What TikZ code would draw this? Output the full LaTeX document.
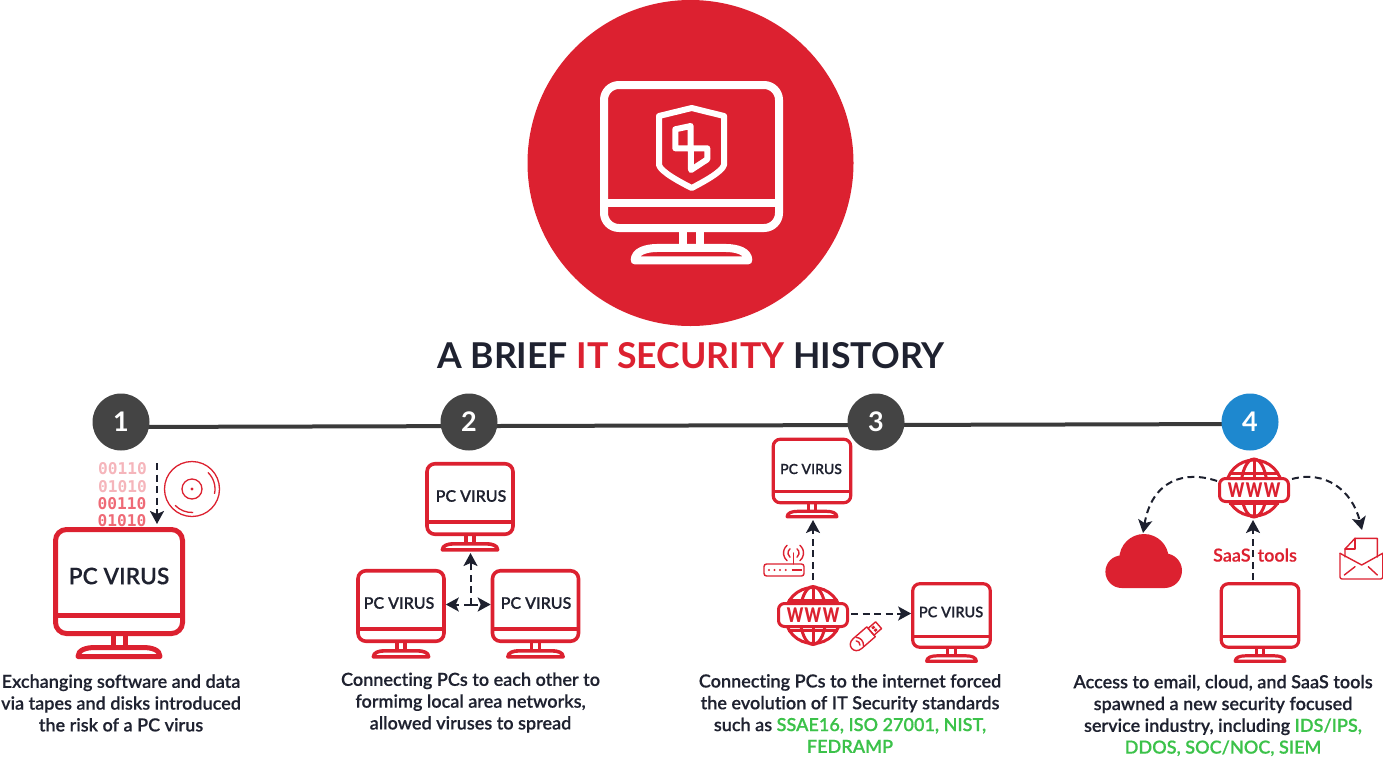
\documentclass[tikz,border=0pt]{standalone}
\usepackage{fontspec}
\usepackage{xcolor}
\usetikzlibrary{arrows.meta,backgrounds}
\setmainfont{Lato}
\newfontfamily\latomed{Lato Semibold}[Ligatures=NoCommon,FakeBold=0.35]
\newfontfamily\latoblack{Lato Black}
\newfontfamily\binfont{DejaVu Sans Mono}[BoldFont={DejaVu Sans Mono Bold}]
\definecolor{virusred}{HTML}{DC2130}
\definecolor{inkdark}{HTML}{1F2230}
\definecolor{stepgrey}{HTML}{444444}
\definecolor{stepblue}{HTML}{1E88CF}
\definecolor{stdgreen}{HTML}{3CC24A}
\definecolor{binlight}{HTML}{F5B5BB}
\definecolor{bindark}{HTML}{EE6A76}
\tikzset{
	pics/monitorbase/.style={code={
		\draw [line join=round] (-64,21) -- (64,21);
		\draw (-6,0) -- (-6,-10) (6,0) -- (6,-10);
		\draw [line join=round] (-41,-20.5) .. controls (-41,-14) and (-33,-11.5) .. (-24,-11.5) -- (24,-11.5) .. controls (33,-11.5) and (41,-14) .. (41,-20.5) -- cycle;
	}},
	pics/globeweb/.style={code={
		\draw (0,-29) -- (0,29);
		\draw (0,0) ellipse (13 and 29);
		\draw (-25,15) -- (25,15) (-25,-15) -- (25,-15);
	}}
}
\begin{document}
\begin{tikzpicture}[x=1pt,y=1pt]
	\useasboundingbox (0,0) rectangle (1383,-758);
	\tikzstyle{every node}+=[inner sep=0pt]
	\tikzstyle{stepdot}=[circle,minimum size=57pt,text=white,font=\fontsize{27}{27}\selectfont\bfseries]
	\tikzstyle{caption}=[align=center,text=inkdark,font=\latomed\fontsize{18.05}{21.8}\selectfont]
	\tikzstyle{screenhuge}=[draw=white,line width=8pt,rounded corners=15pt,minimum width=175pt,minimum height=143pt]
	\tikzstyle{screenlarge}=[draw=virusred,line width=5pt,rounded corners=11pt,minimum width=127pt,minimum height=104pt]
	\tikzstyle{screenmid}=[draw=virusred,line width=3.6pt,rounded corners=8pt,minimum width=86pt,minimum height=70.5pt]
	\tikzstyle{screensmall}=[draw=virusred,line width=3.2pt,rounded corners=7pt,minimum width=77.5pt,minimum height=63.5pt]
	\tikzstyle{pclabel}=[text=inkdark,font=\latomed\fontsize{16}{16}\selectfont]
	\tikzstyle{globe}=[circle,draw=virusred,line width=3pt,minimum size=56pt]
	\tikzstyle{wwwband}=[draw=virusred,fill=white,line width=3pt,rounded corners=6pt,minimum width=69pt,minimum height=23pt,text=virusred,font=\latoblack\fontsize{15.5}{15.5}\selectfont]
	\tikzstyle{dashflow}=[draw=inkdark!95!black,line width=2pt,dash pattern=on 7pt off 4.5pt,-{Stealth[length=13pt,width=14pt,inset=3pt]}]
	\tikzstyle{icon}=[draw=virusred,line width=1.4pt,line cap=round,line join=round]
	\tikzstyle{bits}=[font=\binfont\bfseries\fontsize{16.2}{16.2}\selectfont]

	\fill [virusred] (690.5,-163) circle (163);
	\node (monmain) [screenhuge] at (691.5,-156.5) {};
	\pic [draw=white,line width=8pt,scale=1.386] at (monmain.south) {monitorbase};
	\draw [white,line width=6pt,line join=round] (691.7,-108) -- (659,-116) -- (659,-165) .. controls (661,-172) and (680,-182) .. (691.7,-188) .. controls (703,-182) and (722,-172) .. (724,-165) -- (724,-116) -- cycle;
	\draw [white,line width=6pt,line join=round] (675.3,-129.3) -- (690.7,-126) -- (690.7,-148.3) -- (675.3,-148.3) -- cycle (690.7,-148.3) -- (707.3,-148.3) -- (707.3,-159.3) -- (691,-170) -- cycle;

	\node (title) at (691,-356) {\fontsize{35.6}{36}\selectfont\bfseries\color{inkdark}A BRIEF {\color{virusred}IT SECURITY} HISTORY};

	\node (step1) [stepdot,fill=stepgrey] at (121,-422) {1};
	\node (step2) [stepdot,fill=stepgrey] at (469,-422) {2};
	\node (step3) [stepdot,fill=stepgrey] at (876,-422) {3};
	\node (step4) [stepdot,fill=stepblue] at (1250,-422) {4};
	\begin{scope}[on background layer]
		\draw [stepgrey!85!black,line width=4pt] ([yshift=-5pt]step1.center) -- ([yshift=-2pt]step4.center);
	\end{scope}

	\node (bin1) [bits,text=binlight] at (122.5,-469) {00110};
	\node (bin2) [bits,text=binlight] at (122.5,-487) {01010};
	\node (bin3) [bits,text=bindark] at (122,-504) {00110};
	\node (bin4) [bits,text=bindark] at (122,-521) {01010};
	\draw [virusred,line width=1.3pt] (192,-489) circle (27.5);
	\draw [virusred,line width=1.3pt] (192,-489) circle (10);
	\fill [virusred] (192,-489) circle (1.7);
	\draw [virusred,line width=1.3pt] (192,-489) ++(46:23) arc (46:-12:23);
	\draw [virusred,line width=1.3pt] (192,-489) ++(224:23.5) arc (224:273:23.5);
	\node (pc1) [screenlarge] at (119,-581.5) {};
	\pic [draw=virusred,line width=5pt,scale=1] at (pc1.south) {monitorbase};
	\node (pc1label) [text=inkdark,font=\latomed\fontsize{22.8}{22.8}\selectfont] at (119,-576) {PC VIRUS};
	\coordinate (bintop) at (157,-463);
	\draw [dashflow,shorten >=3pt] (bintop) -- (bintop |- pc1.north);
	\node (cap1) [caption] at (121,-703) {Exchanging software and data\\via tapes and disks introduced\\the risk of a PC virus};

	\node (pc2a) [screenmid] at (470,-499) {};
	\pic [draw=virusred,line width=3.6pt,scale=.674] at (pc2a.south) {monitorbase};
	\node (pc2alabel) [pclabel] at (471,-496) {PC VIRUS};
	\node (pc2b) [screenmid] at (401,-606) {};
	\pic [draw=virusred,line width=3.6pt,scale=.674] at (pc2b.south) {monitorbase};
	\node (pc2blabel) [pclabel] at (399,-603) {PC VIRUS};
	\node (pc2c) [screenmid] at (535.5,-606) {};
	\pic [draw=virusred,line width=3.6pt,scale=.674] at (pc2c.south) {monitorbase};
	\node (pc2clabel) [pclabel] at (536,-603) {PC VIRUS};
	\coordinate (hub) at (470.5,-604.5);
	\coordinate (pc2astand) at (470.5,-553);
	\draw [dashflow] (hub) -- (pc2astand);
	\draw [dashflow] (hub) -- (hub -| pc2b.east);
	\draw [dashflow] (hub) -- (hub -| pc2c.west);
	\node (cap2) [caption] at (470.5,-702.5) {Connecting PCs to each other to\\formimg local area networks,\\allowed viruses to spread};

	\node (pc3a) [screensmall] at (812,-471) {};
	\pic [draw=virusred,line width=3.2pt,scale=.606] at (pc3a.south) {monitorbase};
	\node (pc3alabel) [pclabel,font=\latomed\fontsize{14}{14}\selectfont] at (811,-469) {PC VIRUS};
	\node (pc3b) [screensmall] at (951.5,-615.5) {};
	\pic [draw=virusred,line width=3.2pt,scale=.606] at (pc3b.south) {monitorbase};
	\node (pc3blabel) [pclabel,font=\latomed\fontsize{14.6}{14.6}\selectfont] at (951,-612) {PC VIRUS};
	\node (globe3) [globe] at (813,-615.5) {};
	\pic [draw=virusred,line width=3pt] at (globe3.center) {globeweb};
	\node (web3) [wwwband] at (813,-615) {\scalebox{1}[1.3]{W\kern1.5pt W\kern1.5pt W}};
	\coordinate (pc3astand) at (813,-520);
	\draw [dashflow,shorten <=6pt] (globe3.north) -- (pc3astand);
	\draw [dashflow,shorten <=2pt] (web3.east |- pc3b.center) ++(0,2) -- (pc3b.west |- 0,-613.5);
	\draw [virusred,line width=1.4pt,rounded corners=2.5pt] (764,-564) rectangle (804,-576);
	\draw [icon] (793.5,-564) -- (793.5,-553);
	\foreach \dotx in {769,774.5,780,785.7}
		\fill [virusred] (\dotx,-570) circle (1.1);
	\draw [virusred,line width=2pt] (791.7,-570) -- (801.7,-570);
	\draw [icon] (793.5,-553) ++(50:5.5) arc (50:-50:5.5);
	\draw [icon] (793.5,-553) ++(130:5.5) arc (130:230:5.5);
	\draw [icon] (793.5,-553) ++(50:10) arc (50:-50:10);
	\draw [icon] (793.5,-553) ++(130:10) arc (130:230:10);
	\begin{scope}[shift={(865,-637)},rotate=41]
		\draw [icon,fill=white] (8,-6.5) -- (8,6.5) -- (-10,6.5) .. controls (-20,6.5) and (-20,-6.5) .. (-10,-6.5) -- cycle;
		\draw [icon] (8,-4.5) rectangle (18,4.5);
		\fill [virusred] (11,-3) rectangle (14,-0.5) (11,0.5) rectangle (14,3);
		\draw [icon] (-12,0) ++(-45:4) arc (-45:45:4);
		\draw [icon] (-12,0) ++(-45:7.5) arc (-45:45:7.5);
	\end{scope}
	\node (cap3) [caption] at (850,-713.5) {Connecting PCs to the internet forced\\the evolution of IT Security standards\\such as {\color{stdgreen}SSAE16, ISO 27001, NIST,}\\{\color{stdgreen}FEDRAMP}};

	\node (globe4) [globe] at (1254,-488) {};
	\pic [draw=virusred,line width=3pt] at (globe4.center) {globeweb};
	\node (web4) [wwwband] at (1254,-490) {\scalebox{1}[1.3]{W\kern1.5pt W\kern1.5pt W}};
	\node (pc4) [screensmall] at (1260,-615.5) {};
	\pic [draw=virusred,line width=3.2pt,scale=.606] at (pc4.south) {monitorbase};
	\node (saas) [text=virusred,font=\latomed\fontsize{18}{18}\selectfont] at (1255,-555) {SaaS\hspace{2.5pt} tools};
	\coordinate (cloudtop) at (1143,-533);
	\coordinate (mailtop) at (1362,-530);
	\coordinate (pc4top) at (1253,-580);
	\coordinate (globe4bot) at (1253,-520);
	\coordinate (web4left) at (1217,-481);
	\coordinate (web4right) at (1292,-479);
	\draw [dashflow] (pc4top) -- (globe4bot);
	\draw [dashflow] (web4left) .. controls (1185,-470) and (1152,-480) .. (cloudtop);
	\draw [dashflow] (web4right) .. controls (1325,-470) and (1352,-490) .. (mailtop);
	\fill [virusred] (1121.7,-571.7) circle (16.3) (1164.7,-570.7) circle (17.3) (1144,-558.7) circle (24.7) (1122,-565) rectangle (1165,-588);
	\draw [icon,rounded corners=2pt] (1340,-553.3) -- (1340,-579) -- (1382.7,-579) -- (1382.7,-553.3);
	\draw [icon] (1340,-553.3) -- (1361.7,-565) -- (1382.7,-553.3);
	\draw [icon] (1345,-557) -- (1345,-549) -- (1355,-538.3) -- (1377.3,-538.3) -- (1377.3,-557);
	\draw [icon] (1355,-538.3) -- (1355,-549) -- (1345,-549);
	\draw [icon] (1344.3,-575) -- (1355,-566.7);
	\draw [icon] (1377.3,-575) -- (1368.3,-566.7);
	\node (cap4) [caption] at (1223,-715.5) {Access to email, cloud, and SaaS tools\\spawned a new security focused\\service industry, including {\color{stdgreen}IDS/IPS,}\\{\color{stdgreen}DDOS, SOC/NOC, SIEM}};
\end{tikzpicture}
\end{document}
